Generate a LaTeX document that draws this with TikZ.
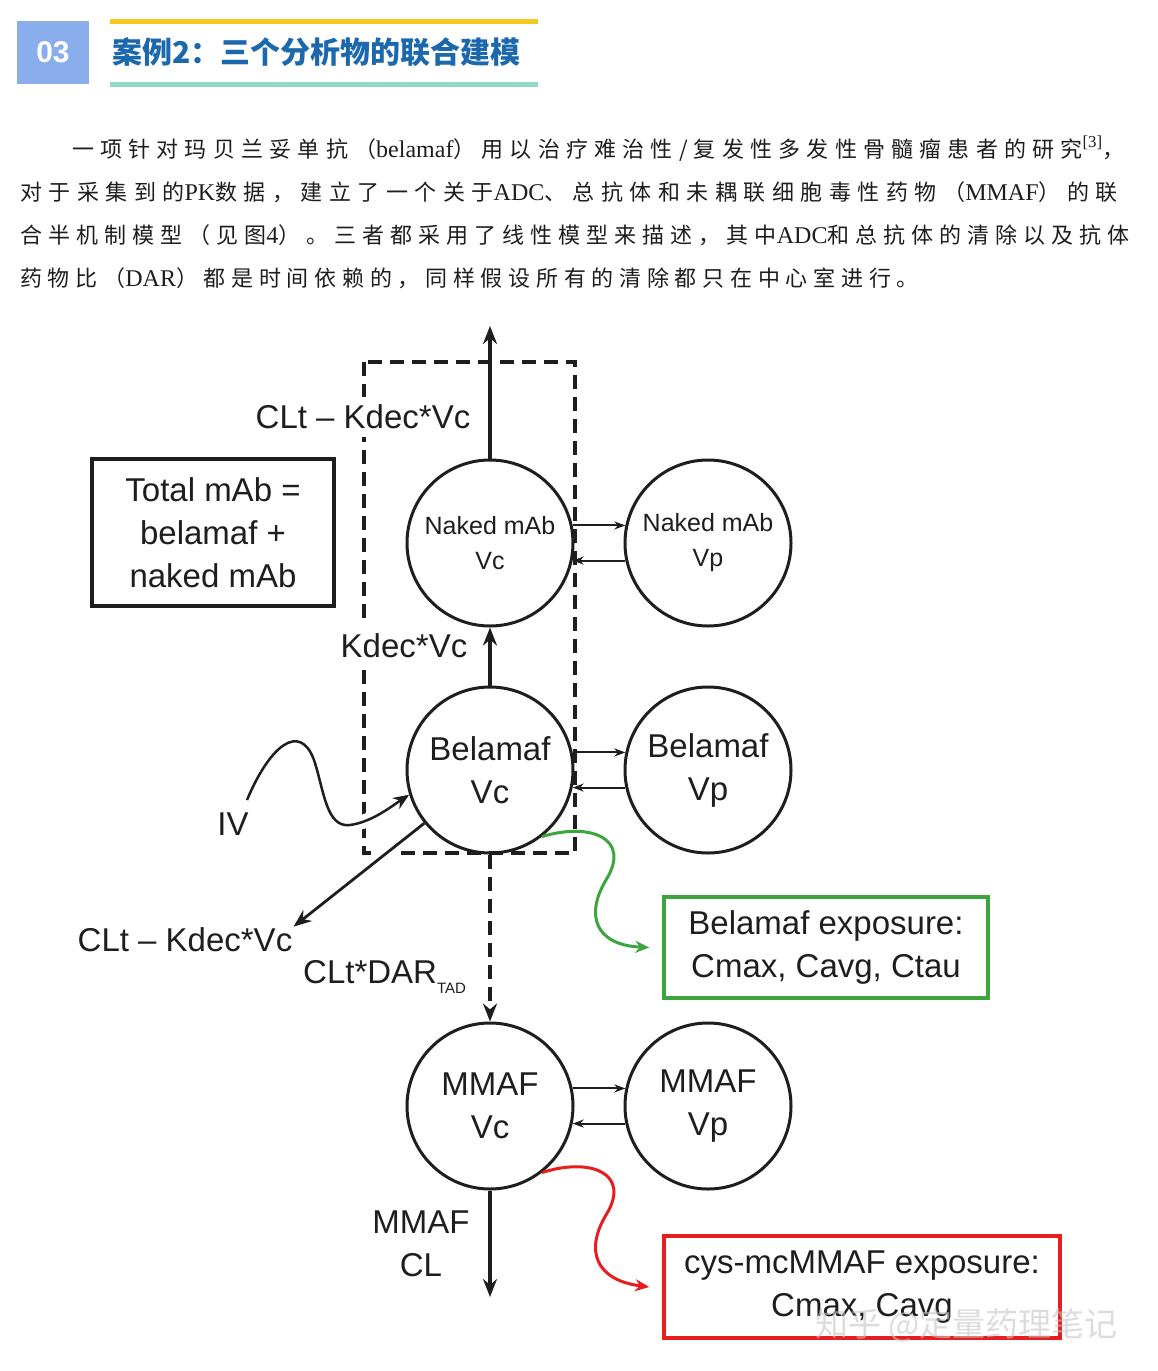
\documentclass[tikz,border=0pt]{standalone}
\usepackage{fontspec}
\setmainfont{Liberation Serif}
\newfontfamily\arial{Liberation Sans}
\newfontfamily\cjk{Noto Sans CJK SC}
\usetikzlibrary{positioning,arrows.meta,backgrounds}
\definecolor{hdrblue}{RGB}{138,174,236}
\definecolor{titleblue}{RGB}{28,104,172}
\definecolor{baryellow}{RGB}{246,200,30}
\definecolor{barteal}{RGB}{146,216,200}
\definecolor{expgreen}{RGB}{60,165,62}
\definecolor{expred}{RGB}{232,30,30}
\definecolor{ink}{RGB}{30,30,30}
\newcommand\lat[1]{{\rmfamily\fontsize{24}{24}\selectfont #1}}
\newcommand\spaced[2]{{\addfontfeature{LetterSpace=#1}#2}}
\tikzset{
  cmt/.style={circle, draw=ink, line width=3pt, minimum size=166pt, inner sep=0pt, align=center, text=ink, font=\arial\fontsize{33}{43}\selectfont},
  smalltxt/.style={font=\arial\fontsize{25}{35}\selectfont},
  lbl/.style={text=ink, inner sep=1pt, align=center, font=\arial\fontsize{33}{43}\selectfont},
  infobox/.style={lbl, draw=ink, line width=3.5pt, inner sep=0pt},
  flow/.style={draw=ink, line width=3.5pt, -{Stealth[length=18pt,width=14pt]}},
  xfer/.style={draw=ink, line width=2pt, -{Stealth[length=11pt,width=8pt]}},
  dbox/.style={draw=ink, line width=3.5pt, dash pattern=on 14pt off 8pt},
  halo/.style={draw=white, line width=14pt},
  expo/.style={line width=3pt, -{Stealth[length=14pt,width=12pt]}},
  para/.style={anchor=base west, inner sep=0pt, text=ink, font=\cjk\fontsize{22}{22}\selectfont},
}

\begin{document}
\begin{tikzpicture}[x=1pt, y=-1pt]
  \useasboundingbox (0,0) rectangle (1158,1371);

  % header
  \node[fill=hdrblue, minimum width=72pt, minimum height=63pt, inner sep=0pt, text=white, font=\arial\bfseries\fontsize{30}{30}\selectfont] (num) at (53,52.5) {03};
  \node[anchor=west, inner sep=0pt, text=titleblue, font=\cjk\bfseries\fontsize{30}{30}\selectfont] (title) at (112,52) {案例2：三个分析物的联合建模};
  \draw[baryellow, line width=5pt] (110,21) -- (538,21);
  \draw[barteal, line width=5pt] (110,84) -- (538,84);

  % text
  \node[para] (l1) at (72,157) {\spaced{28.2}{一项针对玛贝兰妥单抗（\lat{belamaf}）用以治疗难治性/复发性多发性骨髓瘤患者的研究\lat{\textsuperscript{[3]}}，}};
  \node[para] (l2) at (20,200) {\spaced{29.5}{对于采集到的\lat{PK}数据，建立了一个关于\lat{ADC}、总抗体和未耦联细胞毒性药物（\lat{MMAF}）的联}};
  \node[para] (l3) at (20,243) {\spaced{27.4}{合半机制模型（见图\lat{4}）。三者都采用了线性模型来描述，其中\lat{ADC}和总抗体的清除以及抗体}};
  \node[para] (l4) at (20,286) {\spaced{26}{药物比（\lat{DAR}）都是时间依赖的，同样假设所有的清除都只在中心室进行。}};

  % compartments
  \node[cmt, smalltxt] (nakedc) at (490,543) {Naked mAb\\Vc};
  \node[cmt, smalltxt, right=49pt of nakedc] (nakedp) {Naked mAb\\Vp};
  \node[cmt, below=58pt of nakedc] (belac) {Belamaf\\Vc};
  \node[cmt, right=49pt of belac] (belap) {Belamaf\\Vp};
  \node[cmt, below=167pt of belac] (mmafc) {MMAF\\Vc};
  \node[cmt, right=49pt of mmafc] (mmafp) {MMAF\\Vp};

  % labels and boxes
  \node[lbl, fill=white, inner ysep=8pt] (cltup) at (363,417) {CLt – Kdec*Vc};
  \node[lbl, fill=white, inner ysep=8pt] (kdec) at (404,646) {Kdec*Vc};
  \node[lbl] (iv) at (233,824) {IV};
  \node[lbl] (cltdown) at (185,940) {CLt – Kdec*Vc};
  \node[lbl, anchor=west] (dar) at (302,977) {CLt*DAR\raisebox{-10pt}{\fontsize{15}{15}\selectfont TAD}};
  \node[lbl] (mmafcl) at (421,1244) {MMAF\\CL};
  \node[infobox, minimum width=242pt, minimum height=147pt] (total) at (213,532.5) {Total mAb =\\belamaf +\\naked mAb};
  \node[infobox, draw=expgreen, minimum width=324pt, minimum height=101pt] (bexp) at (826,947.5) {Belamaf exposure:\\Cmax, Cavg, Ctau};
  \node[infobox, draw=expred, minimum width=396pt, minimum height=102pt] (cexp) at (862,1287) {cys-mcMMAF exposure:\\Cmax, Cavg};

  \coordinate (topout) at (490,326);
  \coordinate (clout) at (490,1297);
  \coordinate (ivstart) at (247,800);

  \begin{scope}[on background layer]
    \fill[white] (0,0) rectangle (1158,1371);
    \draw[dbox] (364,362) rectangle (575,853);
    \draw[halo] (belac.219) -- (cltdown.north east);
    \draw[halo] (ivstart) .. controls (270,745) and (300,722) .. (314,760) .. controls (324,790) and (326,828) .. (350,825) .. controls (372,822) and (392,806) .. (belac.197);
  \end{scope}

  % flows
  \draw[flow] (nakedc) -- (topout);
  \draw[flow] (belac) -- (nakedc);
  \draw[flow, dash pattern=on 14pt off 8pt] (belac) -- (mmafc);
  \draw[flow] (mmafc) -- (clout);
  \draw[flow, line width=2.8pt] (belac.219) -- (cltdown.north east);
  \draw[draw=ink, line width=2.5pt, -{Stealth[length=16pt,width=13pt]}] (ivstart) .. controls (270,745) and (300,722) .. (314,760) .. controls (324,790) and (326,828) .. (350,825) .. controls (372,822) and (392,806) .. (belac.197);

  \draw[xfer] (nakedc.12) -- (nakedp.168);
  \draw[xfer] (nakedp.-168) -- (nakedc.-12);
  \draw[xfer] (belac.12) -- (belap.168);
  \draw[xfer] (belap.-168) -- (belac.-12);
  \draw[xfer] (mmafc.12) -- (mmafp.168);
  \draw[xfer] (mmafp.-168) -- (mmafc.-12);

  % exposure links
  \draw[expo, expgreen] (belac.-52) .. controls (590,822) and (632,838) .. (606,880) .. controls (585,915) and (595,945) .. ([xshift=-13pt]bexp.west);
  \draw[expo, expred] (mmafc.-52) .. controls (590,1157) and (632,1173) .. (606,1215) .. controls (585,1250) and (595,1280) .. ([xshift=-13pt]cexp.west);

  \node[anchor=west, inner sep=0pt, text=gray!45, opacity=0.6, font=\cjk\fontsize{33}{33}\selectfont] (wm) at (815,1325) {知乎 @定量药理笔记};
\end{tikzpicture}
\end{document}
